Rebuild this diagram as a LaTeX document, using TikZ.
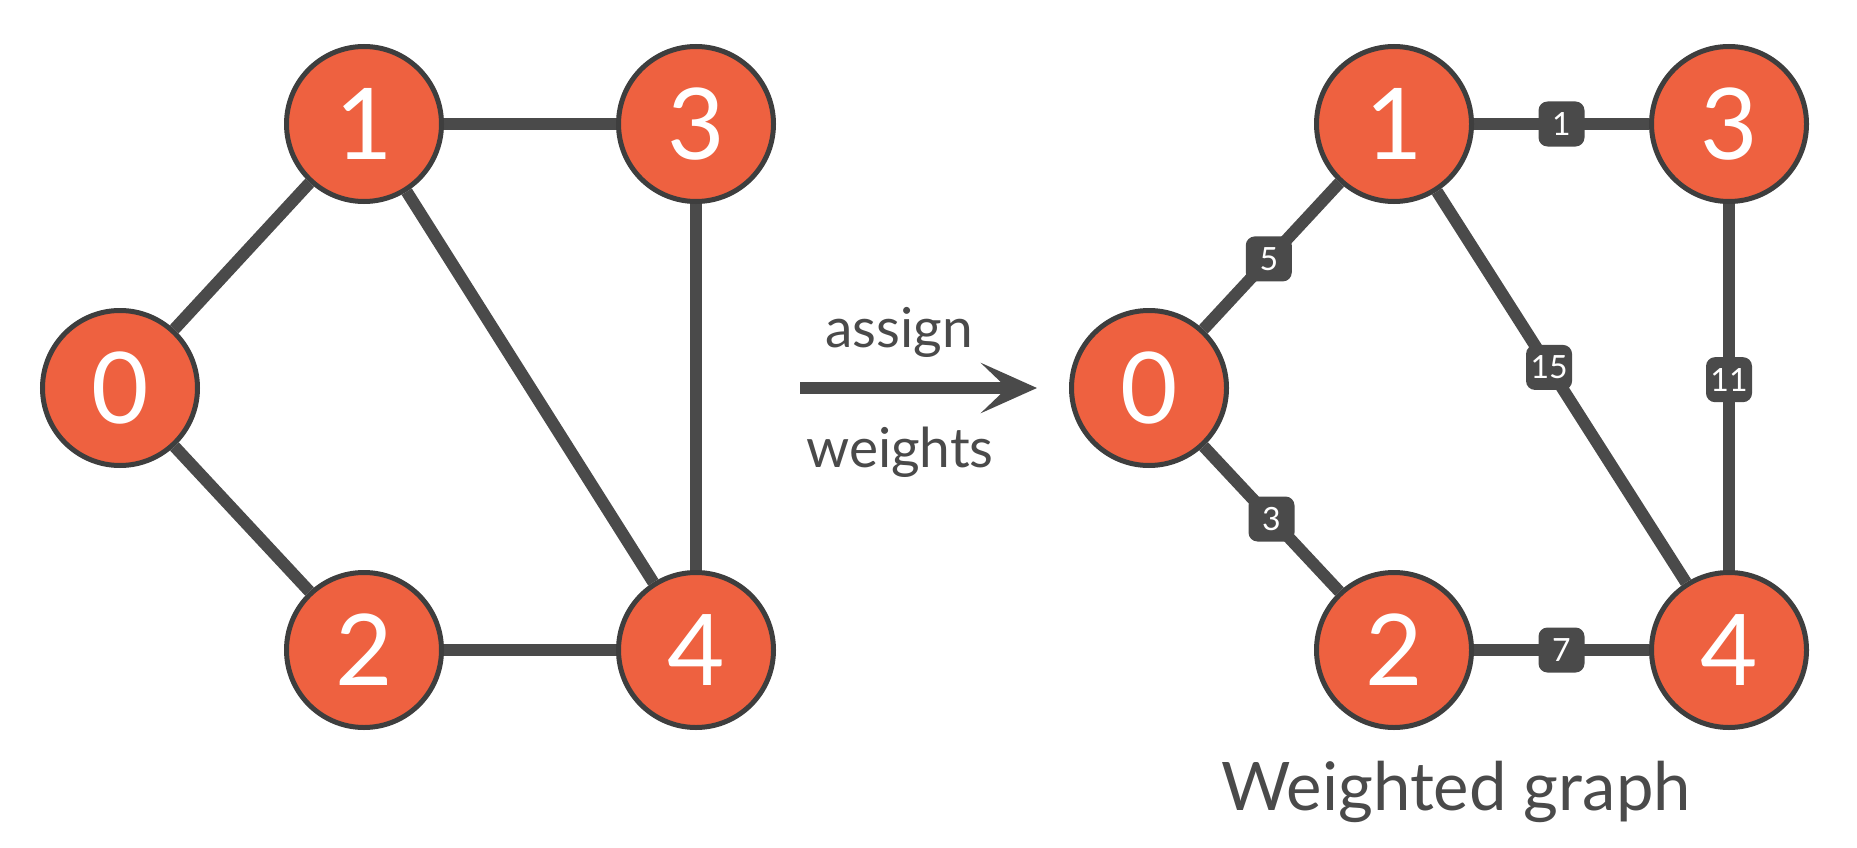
\documentclass[tikz,border=0pt]{standalone}
\usepackage{fontspec}
\setmainfont{Lato}
\usetikzlibrary{arrows.meta,backgrounds}

\definecolor{naranja}{HTML}{EE6140}
\definecolor{borde}{HTML}{3E3E3E}
\definecolor{gris}{HTML}{4A4A4A}

\tikzset{
	nodo/.style={circle, draw=borde, line width=5pt, fill=naranja, minimum size=155pt,
		inner sep=0pt, text=white, font=\fontsize{99}{99}\selectfont},
	arista/.style={draw=gris, line width=12pt},
	peso/.style={fill=gris, rounded corners=9pt, minimum width=46pt, minimum height=45pt,
		inner sep=0pt, text=white, font=\fontsize{32}{32}\selectfont},
	texto/.style={text=gris, inner sep=0pt, anchor=base},
}

\begin{document}
\begin{tikzpicture}[x=1pt, y=-1pt]
			% Marco
			\useasboundingbox (0,0) rectangle (1857,848);
			
			% Grafo sin pesos
			\foreach \n/\x/\y in {0/120/388, 1/364/124, 2/364/650, 3/696/124, 4/696/650}
				\node[nodo] (a\n) at (\x,\y) {\n};
			
			% Grafo con pesos
			\foreach \n/\x/\y in {0/1149/388, 1/1394/124, 2/1394/650, 3/1729/124, 4/1729/650}
				\node[nodo] (b\n) at (\x,\y) {\n};
			
			% Aristas y pesos
			\begin{scope}[on background layer]
				\foreach \a/\b in {0/1, 0/2, 1/3, 1/4, 3/4, 2/4}
					\draw[arista] (a\a) -- (a\b);
				\foreach \a/\b/\w/\p in {
					0/1/5/0.48,
					0/2/3/0.5,
					1/3/1/0.5,
					1/4/15/0.45,
					3/4/11/0.48,
					2/4/7/0.5} {
					\draw[arista] (b\a) -- node[peso, pos=\p] {\w} (b\b);
				}
			\end{scope}
			
			% Flecha central
			\coordinate (ini) at (800,388);
			\coordinate (fin) at (1037,388);
			\draw[gris, line width=12pt, -{Stealth[length=56pt, width=50pt, inset=26pt]}] (ini) -- (fin);
			\node[texto, font=\fontsize{55}{55}\selectfont] (asignar) at (899,347) {assign};
			\node[texto, font=\fontsize{55}{55}\selectfont] (pesos) at (900,467) {weights};
			
			% Titulo
			\node[texto, font=\fontsize{67}{67}\selectfont] (titulo) at (1456,810) {Weighted graph};
\end{tikzpicture}
\end{document}
